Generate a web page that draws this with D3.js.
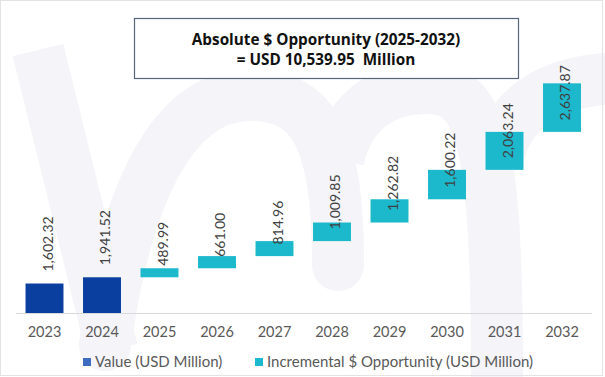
<!DOCTYPE html>
<html>
<head>
<meta charset="utf-8">
<script src="https://cdn.jsdelivr.net/npm/d3@7"></script>
<style>
  body { margin: 0; background: #fff; }
  svg { display: block; font-family: Lato, "Open Sans", sans-serif; }
</style>
</head>
<body>
<div id="chart"></div>
<script>
var years = ["2023", "2024", "2025", "2026", "2027", "2028", "2029", "2030", "2031", "2032"];
var valueYears = ["2023", "2024"];
var values = [1602.32, 1941.52];
var incYears = ["2025", "2026", "2027", "2028", "2029", "2030", "2031", "2032"];
var increments = [489.99, 661.00, 814.96, 1009.85, 1262.82, 1600.22, 2063.24, 2637.87];
var titleLines = ["Absolute $ Opportunity (2025-2032)", "= USD 10,539.95\u00a0 Million"];
var legendLabels = ["Value (USD Million)", "Incremental $ Opportunity (USD Million)"];

var width = 605, height = 377;
var darkBlue = "#0b3f9f", cyan = "#1cb8cc";

var svg = d3.select("div#chart")
  .append("svg")
    .attr("width", width)
    .attr("height", height);

// faint watermark in the background
var wm = svg.append("g")
    .attr("fill", "none")
    .attr("stroke", "#f4f4f9")
    .attr("stroke-width", 52);
wm.append("path").attr("d", "M38,50 L112,350");
wm.append("path").attr("d", "M105,345 C125,200 170,95 250,95 C315,95 338,140 338,265")
    .attr("stroke-linecap", "round");
wm.append("path").attr("d", "M338,160 C350,105 390,88 425,88 C480,88 497,130 497,377");
wm.append("path").attr("d", "M497,160 C510,100 560,80 620,78");

var x = d3.scaleBand()
    .domain(years)
    .range([15.75, 590.75])
    .paddingInner(0.34)
    .paddingOuter(0.17);

var y = d3.scaleLinear()
    .domain([0, 14000])
    .range([313, 55.4]);

// running base for the incremental bars
var incData = [];
var base = values[values.length - 1];
incYears.forEach(function(yr, i) {
  incData.push({year: yr, value: increments[i], base: base, top: base + increments[i]});
  base += increments[i];
});
var valData = valueYears.map(function(yr, i) { return {year: yr, value: values[i]}; });

// axis line and year labels
var xAxis = svg.append("g")
    .attr("transform", "translate(0,313)")
    .call(d3.axisBottom(x).tickSize(0).tickPadding(14));
xAxis.select(".domain")
    .attr("stroke", "#d9d9d9")
    .attr("d", "M16,0.5H592");
xAxis.selectAll("text")
    .attr("font-family", "Lato, sans-serif")
    .attr("font-size", 14.5)
    .attr("fill", "#595959");

svg.append("g")
  .selectAll("rect")
  .data(valData)
  .enter().append("rect")
    .attr("x", function(d) { return x(d.year); })
    .attr("y", function(d) { return y(d.value); })
    .attr("width", x.bandwidth())
    .attr("height", function(d) { return y(0) - y(d.value); })
    .attr("fill", darkBlue);

svg.append("g")
  .selectAll("rect")
  .data(incData)
  .enter().append("rect")
    .attr("x", function(d) { return x(d.year); })
    .attr("y", function(d) { return y(d.top); })
    .attr("width", x.bandwidth())
    .attr("height", function(d) { return y(d.base) - y(d.top); })
    .attr("fill", cyan);

var fmt = d3.format(",.2f");

svg.append("g")
  .selectAll("text")
  .data(valData)
  .enter().append("text")
    .attr("transform", function(d) {
      return "translate(" + (x(d.year) + x.bandwidth() / 2 + 8) + "," + (y(d.value) - 12) + ") rotate(-90)";
    })
    .attr("font-size", 14)
    .attr("fill", "#404040")
    .text(function(d) { return fmt(d.value); });

svg.append("g")
  .selectAll("text")
  .data(incData)
  .enter().append("text")
    .attr("transform", function(d) {
      return "translate(" + (x(d.year) + x.bandwidth() / 2 + 8) + "," + (y(d.base) - 11.5) + ") rotate(-90)";
    })
    .attr("font-size", 14)
    .attr("fill", "#404040")
    .text(function(d) { return fmt(d.value); });

// title box
svg.append("rect")
    .attr("x", 134.5)
    .attr("y", 18.5)
    .attr("width", 384)
    .attr("height", 60)
    .attr("fill", "#fff")
    .attr("stroke", "#55657a")
    .attr("stroke-width", 1.2);

svg.append("g")
  .selectAll("text")
  .data(titleLines)
  .enter().append("text")
    .attr("x", 326)
    .attr("y", function(d, i) { return 45 + i * 19.5; })
    .attr("text-anchor", "middle")
    .attr("font-family", "'Open Sans', sans-serif")
    .attr("font-size", 15.3)
    .attr("font-weight", "bold")
    .attr("fill", "#111")
    .text(function(d) { return d; });

// legend
var legendColors = ["#3d6cc0", cyan];
var legendX = [83, 255];
var legend = svg.append("g")
  .selectAll("g")
  .data(legendLabels)
  .enter().append("g")
    .attr("transform", function(d, i) { return "translate(" + legendX[i] + ",358)"; });
legend.append("rect")
    .attr("width", 8)
    .attr("height", 8)
    .attr("fill", function(d, i) { return legendColors[i]; });
legend.append("text")
    .attr("x", 12)
    .attr("y", 9)
    .attr("font-size", 15)
    .attr("fill", "#595959")
    .text(function(d) { return d; });

// outer frame
svg.append("rect")
    .attr("x", 0.5)
    .attr("y", 0.5)
    .attr("width", 602)
    .attr("height", 375)
    .attr("fill", "none")
    .attr("stroke", "#e3e3e3");
</script>
</body>
</html>
